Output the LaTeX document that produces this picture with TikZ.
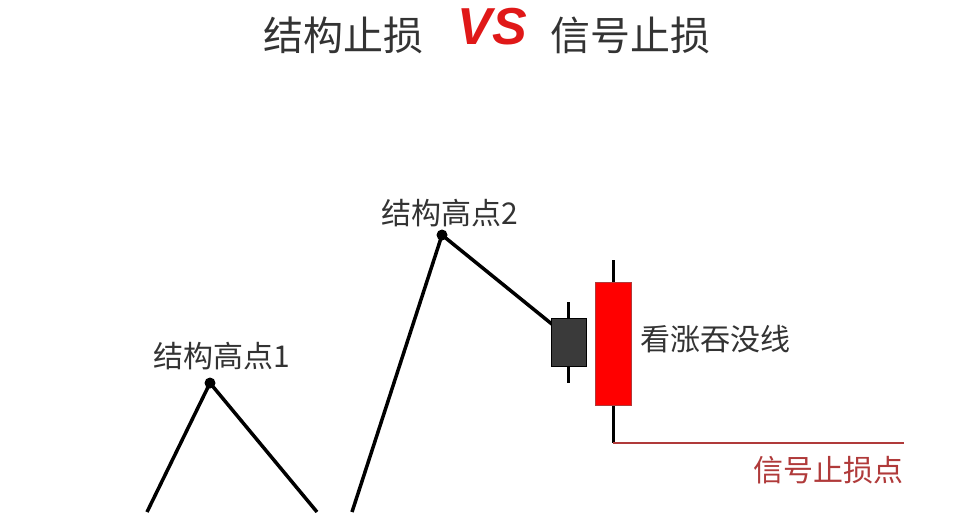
\documentclass[tikz,border=0pt]{standalone}
\usepackage{fontspec}
\setsansfont{Liberation Sans}
\newfontfamily\cjkfont{Noto Sans CJK SC}
\usetikzlibrary{positioning, calc}
\definecolor{inkgray}{HTML}{333333}
\definecolor{stopred}{HTML}{B03A3A}
\definecolor{vsred}{HTML}{E01818}
\definecolor{candlegray}{HTML}{3A3A3A}

\begin{document}
\begin{tikzpicture}[
            x=1pt, y=-1pt,
            % styles
            title/.style={font=\cjkfont\fontsize{40}{40}\selectfont, text=inkgray, inner sep=0pt},
            label/.style={font=\cjkfont\fontsize{30}{30}\selectfont, text=inkgray, inner sep=0pt},
            peak/.style={circle, fill=black, inner sep=0pt, minimum size=11pt},
            trend/.style={line width=3.5pt, line join=round, black},
            wick/.style={line width=3pt, black},
            bearbox/.style={draw=black, line width=1pt, fill=candlegray},
            bullbox/.style={draw=stopred, line width=1pt, fill=red}
        ]
        \useasboundingbox[fill=white] (0,0) rectangle (971,512);

        % title
        \node (vs)    [font=\sffamily\bfseries\itshape\fontsize{52}{52}\selectfont, text=vsred, inner sep=0pt] at (492,27) {VS};
        \node (left)  [title] at (343,35) {结构止损};
        \node (right) [title] at (630,35) {信号止损};

        % structure points
        \coordinate (a) at (147,512);
        \node (hi1) [peak] at (210,383) {};
        \coordinate (b) at (317,512);
        \coordinate (c) at (352,512);
        \node (hi2) [peak] at (442,235) {};
        \coordinate (d) at (553,325);

        \node (lab1) [label] at (222,356) {结构高点1};
        \node (lab2) [label] at (450,213) {结构高点2};

        % zigzag
        \draw [trend] (a) -- (hi1.center) -- (b);
        \draw [trend] (c) -- (hi2.center) -- (d);

        % candles
        \draw [wick] (568,302) -- (568,383);
        \node (bear) [bearbox, minimum width=35pt, minimum height=48pt, inner sep=0pt] at (568.5,342) {};
        \draw [wick] (613,260) -- (613,443);
        \node (bull) [bullbox, minimum width=36pt, minimum height=123pt, inner sep=0pt] at (613,343.5) {};
        \node (engulf) [label, anchor=west] at (640,339) {看涨吞没线};

        % signal stop
        \coordinate (stopend) at (904,443);
        \draw [stopred, line width=2.5pt] (613,443) -- (stopend);
        \node (stoplab) [label, text=stopred, anchor=east] at (stopend |- 0,470) {信号止损点};

        \end{tikzpicture}
\end{document}
